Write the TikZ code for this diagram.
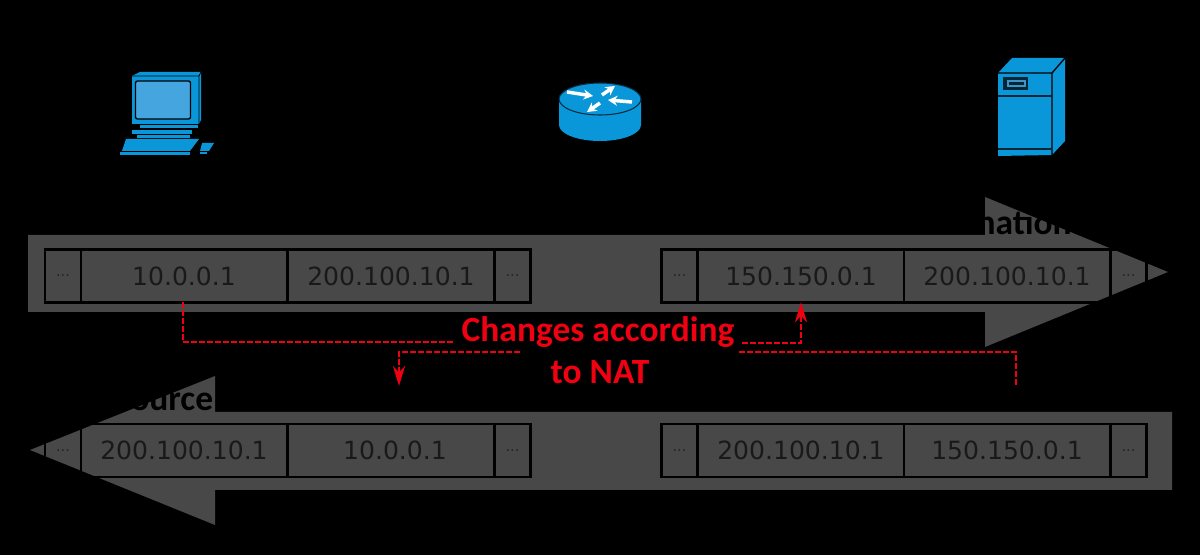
\documentclass[tikz,border=0pt]{standalone}
\usepackage{fontspec}
\setmainfont{Carlito}
\newfontfamily\ipfont{DejaVu Sans}
\usetikzlibrary{arrows.meta}
\definecolor{band}{HTML}{484848}
\definecolor{iconblue}{HTML}{0A97D9}
\definecolor{screenblue}{HTML}{45A5DE}
\definecolor{natred}{HTML}{F00010}
\tikzset{
  x=0.75pt,y=-0.75pt,
  flowband/.style={fill=band,draw=none},
  field/.style={draw=black,line width=1.9pt,minimum height=39.5pt,inner sep=0pt,outer sep=0pt,text=black!90,font=\ipfont\fontsize{18.8pt}{20pt}\selectfont},
  wide/.style={field,minimum width=154.5pt},
  narrow/.style={field,minimum width=27pt,font=\ipfont\fontsize{11pt}{12pt}\selectfont,text=black!50!band},
  head/.style={font=\bfseries\fontsize{26.6pt}{28pt}\selectfont,text=black,inner sep=0pt,anchor=base},
  natlabel/.style={font=\bfseries\fontsize{26.6pt}{28pt}\selectfont,text=natred,inner sep=0pt},
  natline/.style={draw=natred,line width=2pt,dash pattern=on 4.5pt off 1.5pt},
  natarrow/.style={natline,-{Stealth[length=15pt,width=9pt]}},
  icon/.style={fill=iconblue,draw=none},
  iconline/.style={draw=black,line width=1pt}
}
\begin{document}
\begin{tikzpicture}
\useasboundingbox (0,0) rectangle (1200,555);
\fill[black] (0,0) rectangle (1200,555);

% flow arrows
\fill[flowband] (28,235) -- (985,235) -- (985,197) -- (1168,272) -- (985,347) -- (985,312) -- (28,312) -- cycle;
\fill[flowband] (1172,412) -- (215,412) -- (215,376) -- (30,450) -- (215,525) -- (215,490) -- (1172,490) -- cycle;

% header fragments, black on the gray
\node[head] at (176,234.5) {Source IP};
\node[head] at (794,234.5) {Source IP};
\node[head] at (1005,234.5) {Destination IP};
\node[head] at (181.5,411) {Source IP};

% top row
\node[narrow] (ta) at (63,276) {...};
\node[wide] (tb) at (184,276) {10.0.0.1};
\node[wide] (tc) at (391,276) {200.100.10.1};
\node[narrow] (td) at (512.5,276) {...};
\node[narrow] (te) at (679.5,276) {...};
\node[wide] (tf) at (801,276) {150.150.0.1};
\node[wide] (tg) at (1007,276) {200.100.10.1};
\node[narrow] (th) at (1128.5,276) {...};

% bottom row
\node[narrow] (ba) at (63,450.5) {...};
\node[wide] (bb) at (184,450.5) {200.100.10.1};
\node[wide,text width=154.5pt,align=center,xshift=0pt] (bc) at (391,450.5) {\hspace*{6pt}10.0.0.1};
\node[narrow] (bd) at (512.5,450.5) {...};
\node[narrow] (be) at (679.5,450.5) {...};
\node[wide] (bf) at (801,450.5) {200.100.10.1};
\node[wide] (bg) at (1007,450.5) {150.150.0.1};
\node[narrow] (bh) at (1128.5,450.5) {...};

% label and connectors
\node[natlabel] (nat1) at (598,332) {Changes according};
\node[natlabel] (nat2) at (600,372) {to NAT};
\coordinate (c1) at (183,342);
\coordinate (c1e) at (455,342);
\coordinate (c2s) at (742,343);
\coordinate (c2) at (801,343);
\coordinate (c3s) at (1016,385);
\coordinate (c3) at (1016,352);
\coordinate (c3e) at (738,352);
\coordinate (c4s) at (520,352);
\coordinate (c4) at (399,352);
\coordinate (c4e) at (399,386);
\draw[natline] (tb.south -| c1) -- (c1) -- (c1e);
\draw[natarrow] (c2s) -- (c2) -- (tf.south);
\draw[natline] (c3s) -- (c3) -- (c3e);
\draw[natarrow] (c4s) -- (c4) -- (c4e);

% computer
\fill[icon] (132,76) -- (140,72) -- (201,72) -- (201,120) -- (199,124) -- (132,124) -- cycle;
\draw[black,line width=.6pt] (132,76) -- (199,76) -- (201,72) (199,76) -- (199,124);
\fill[screenblue,draw=black,line width=1pt,rounded corners=1.5pt] (135.5,81) rectangle (190.5,119);
\fill[icon] (140,125) rectangle (198,128.5);
\fill[icon] (132,130.5) rectangle (192,134);
\fill[icon] (137,135.5) rectangle (190,138);
\fill[icon] (126,139) -- (199,139) -- (190,151) -- (122,151) -- cycle;
\fill[icon] (120,152.5) rectangle (190,155);
\fill[icon] (202,143) -- (214,143) -- (209,151) -- (200,151) -- cycle;
\fill[icon] (200,152) rectangle (207,154.5);

% router
\fill[icon] (559,98) -- (559,125) arc[start angle=180,end angle=0,x radius=41,y radius=16] -- (641,98) -- cycle;
\fill[icon,draw=black!70!iconblue,line width=.8pt] (600,99) ellipse[x radius=41,y radius=16];
\begin{scope}[white,line width=2.6pt,-{Stealth[length=7pt,width=7.5pt]}]
\draw (567,92) -- (593,96);
\draw (602,95) -- (615,86);
\draw (632,102) -- (608,100);
\draw (600,103) -- (587,112);
\end{scope}

% server
\fill[icon] (998,73) -- (1012,58) -- (1065,58) -- (1065,141) -- (1052,155) -- (998,156) -- cycle;
\draw[iconline] (998,73) -- (1052,73) -- (1065,58) (1052,73) -- (1052,155);
\fill[black!75!iconblue] (1003,77) rectangle (1028,90);
\draw[black!10!screenblue,line width=.9pt] (1008,81) rectangle (1025,86);
\draw[black!75!iconblue,line width=1.5pt] (998,96) -- (1052,96) (998,149) -- (1052,149);
\end{tikzpicture}
\end{document}
